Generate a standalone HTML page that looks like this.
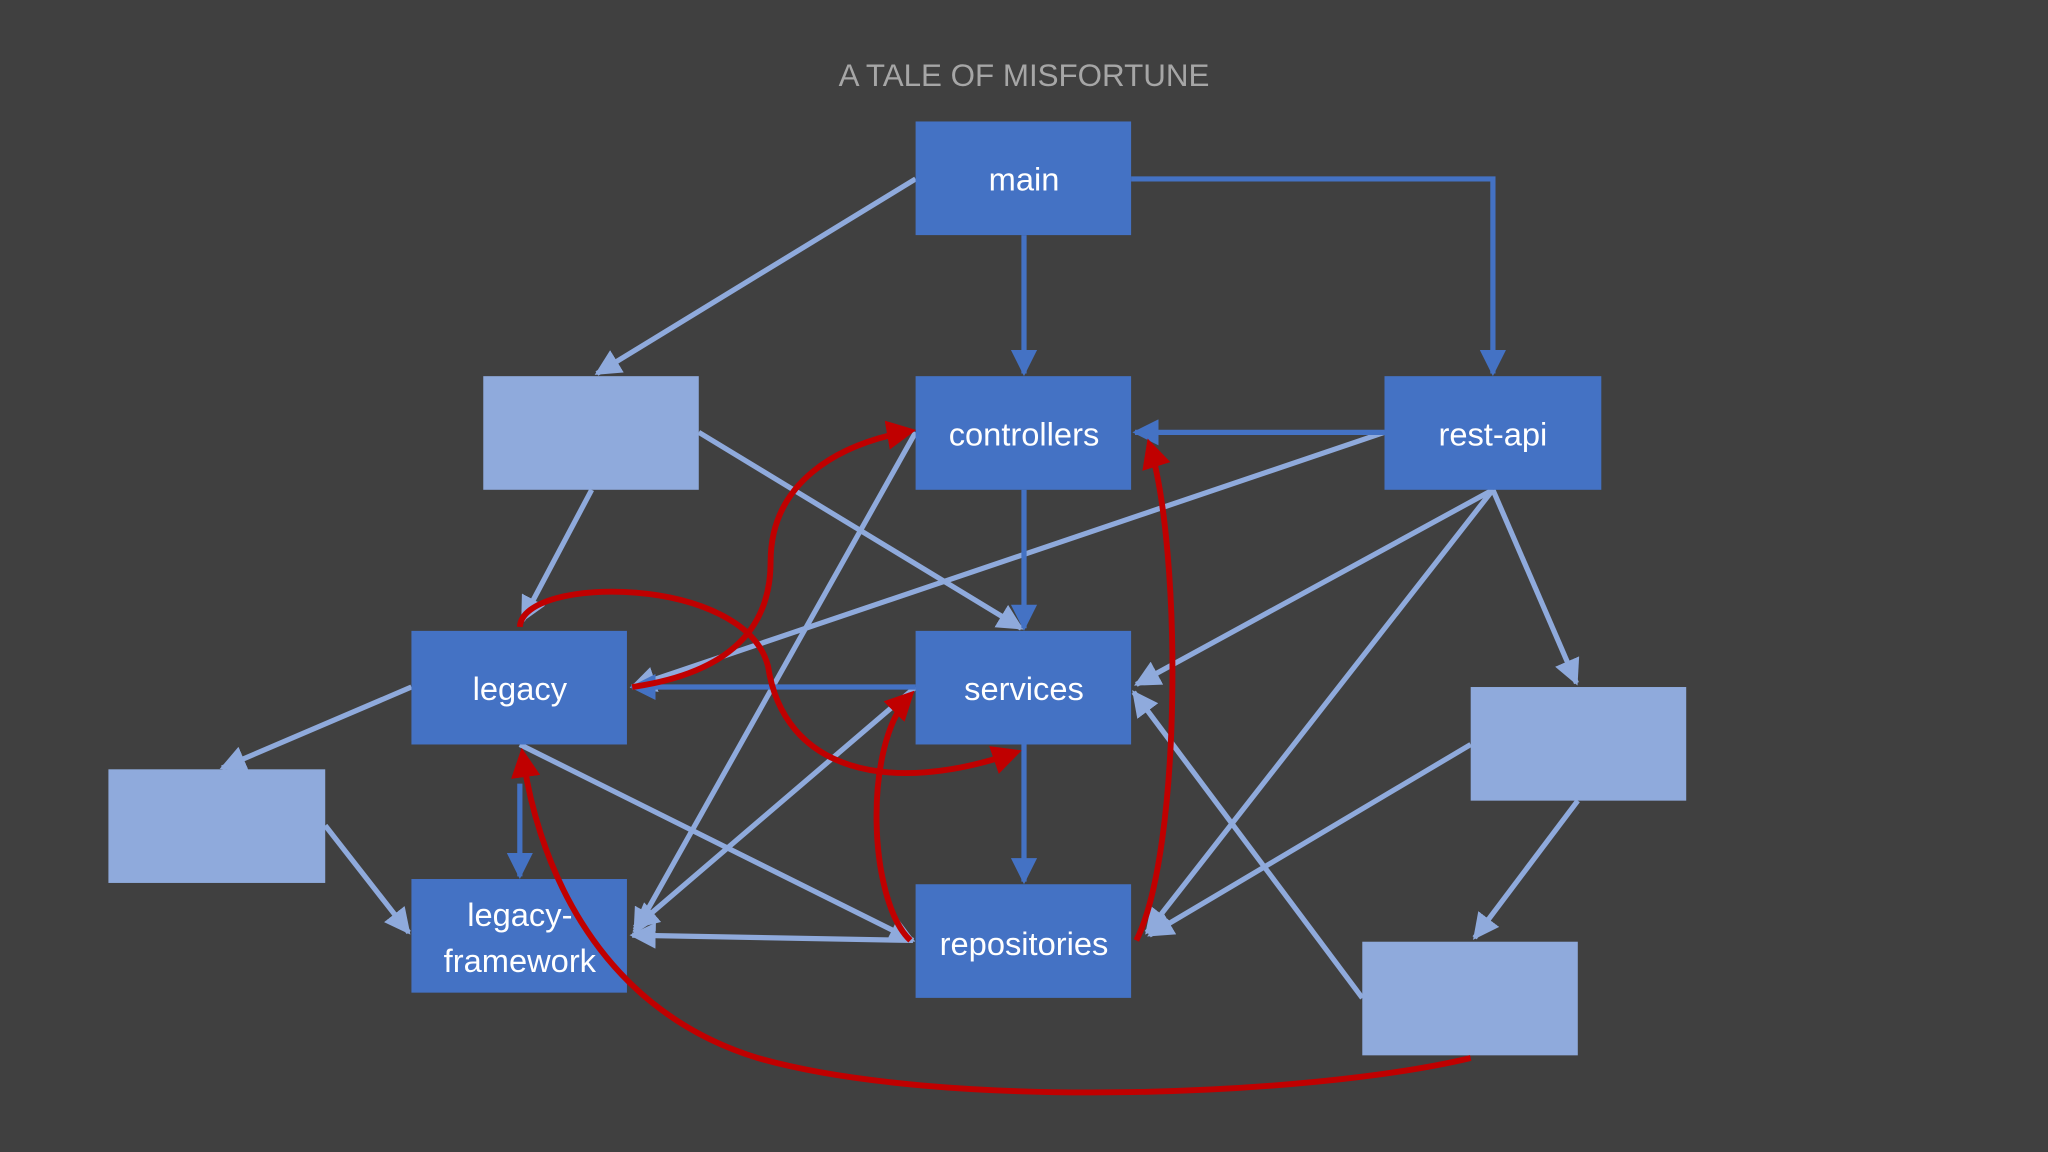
<!DOCTYPE html>
<html><head><meta charset="utf-8"><style>
html,body{margin:0;padding:0;background:#404040;}
svg{display:block;}
text{font-family:"Liberation Sans",sans-serif;}
</style></head><body>
<svg width="2048" height="1152" viewBox="0 0 1568 882" xmlns="http://www.w3.org/2000/svg">
<defs>
<marker id="ad" viewBox="0 0 10 10" refX="9" refY="5" markerWidth="5" markerHeight="5" orient="auto" markerUnits="strokeWidth"><path d="M0,0L10,5L0,10z" fill="#4472C4"/></marker>
<marker id="al" viewBox="0 0 10 10" refX="9" refY="5" markerWidth="5" markerHeight="5" orient="auto" markerUnits="strokeWidth"><path d="M0,0L10,5L0,10z" fill="#8FAADC"/></marker>
<marker id="ar" viewBox="0 0 10 10" refX="8" refY="5" markerWidth="5" markerHeight="5" orient="auto" markerUnits="strokeWidth"><path d="M0,0L10,5L0,10z" fill="#C00000"/></marker>
</defs>
<rect width="1568" height="882" fill="#404040"/>
<text x="784" y="66" font-size="24" fill="#A6A6A6" text-anchor="middle">A TALE OF MISFORTUNE</text>

<g stroke="#8FAADC" stroke-width="4" fill="none" marker-end="url(#al)">
<line x1="701" y1="137" x2="457" y2="286"/>
<line x1="535" y1="331" x2="782" y2="481"/>
<line x1="453" y1="375" x2="400" y2="475"/>
<line x1="1060" y1="331" x2="484" y2="526"/>
<line x1="701" y1="331" x2="486" y2="714"/>
<line x1="1143" y1="375" x2="870" y2="524"/>
<line x1="1143" y1="375" x2="878" y2="714"/>
<line x1="1143" y1="375" x2="1207" y2="523"/>
<line x1="1126" y1="570" x2="880" y2="716"/>
<line x1="1208" y1="613" x2="1129" y2="718"/>
<line x1="1043" y1="764" x2="868" y2="530"/>
<line x1="315" y1="526" x2="170" y2="588"/>
<line x1="249" y1="632" x2="313" y2="714"/>
<line x1="398" y1="570" x2="699" y2="720"/>
<line x1="701" y1="526" x2="486" y2="710"/>
<line x1="699" y1="720" x2="484" y2="716"/>
</g>
<g stroke="#4472C4" stroke-width="4" fill="none" marker-end="url(#ad)">
<line x1="784" y1="180" x2="784" y2="286"/>
<polyline points="866,137 1143,137 1143,286"/>
<line x1="1060" y1="331" x2="869" y2="331"/>
<line x1="784" y1="375" x2="784" y2="481"/>
<line x1="784" y1="570" x2="784" y2="675"/>
<line x1="701" y1="526" x2="484" y2="526"/>
<line x1="398" y1="600" x2="398" y2="671"/>
</g>

<g fill="#4472C4">
<rect x="701" y="93" width="165" height="87"/>
<rect x="701" y="288" width="165" height="87"/>
<rect x="1060" y="288" width="166" height="87"/>
<rect x="315" y="483" width="165" height="87"/>
<rect x="701" y="483" width="165" height="87"/>
<rect x="701" y="677" width="165" height="87"/>
<rect x="315" y="673" width="165" height="87"/>
</g>
<g fill="#8FAADC">
<rect x="370" y="288" width="165" height="87"/>
<rect x="83" y="589" width="166" height="87"/>
<rect x="1126" y="526" width="165" height="87"/>
<rect x="1043" y="721" width="165" height="87"/>
</g>

<g stroke="#C00000" stroke-width="4.5" fill="none" marker-end="url(#ar)">
<path d="M870,720 C905,650 905,420 880,340"/>
<path d="M697,720 C665,690 660,570 697,532"/>
<path d="M484,526 C560,515 590,480 590,430 C590,370 640,340 697,330"/>
<path d="M398,480 C400,440 570,440 588,510 C600,590 680,610 778,576"/>
<path d="M1126,810 C1000,840 720,850 580,810 C450,770 410,650 400,577"/>
</g>

<g fill="#FFFFFF" font-size="25" text-anchor="middle">
<text x="784" y="146">main</text>
<text x="784" y="341">controllers</text>
<text x="1143" y="341">rest-api</text>
<text x="398" y="536">legacy</text>
<text x="784" y="536">services</text>
<text x="784" y="731">repositories</text>
<text x="398" y="709">legacy-</text>
<text x="398" y="744">framework</text>
</g>
</svg>
</body></html>
